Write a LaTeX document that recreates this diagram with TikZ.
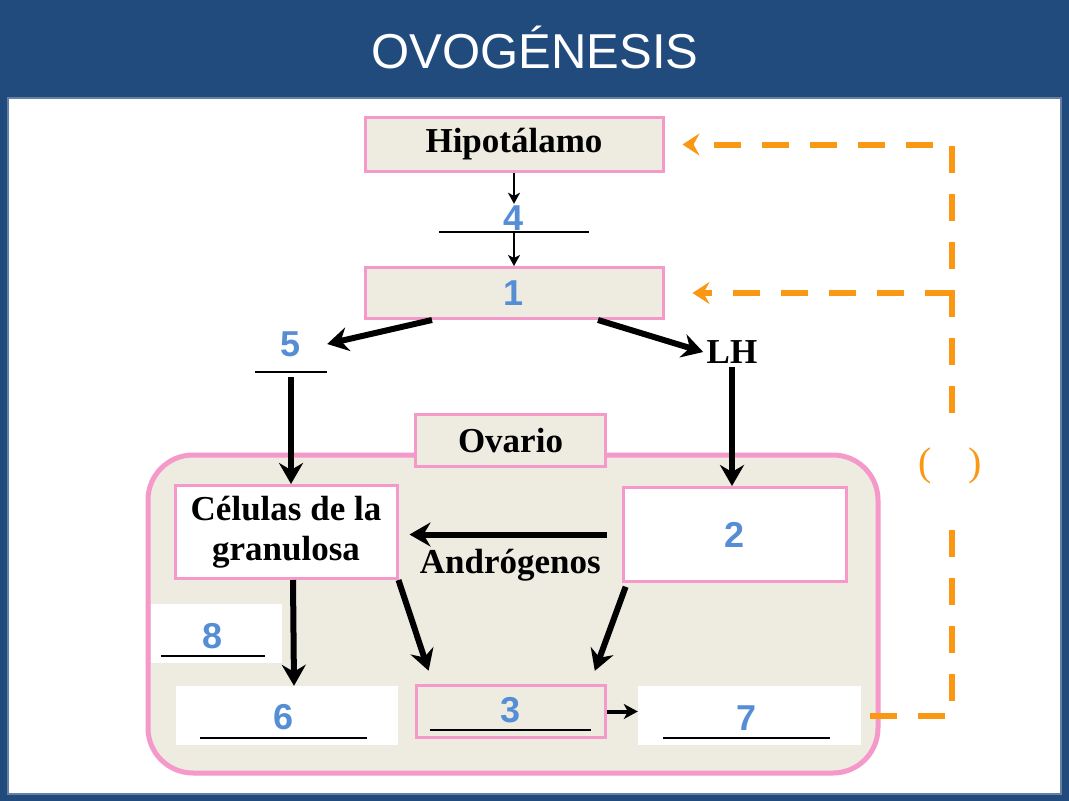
\documentclass[tikz,border=0pt]{standalone}
\usepackage{fontspec}
\setmainfont{Liberation Serif}
\newfontfamily\numfont{Liberation Sans}
\usetikzlibrary{arrows.meta}
\definecolor{frameblue}{RGB}{33,74,125}
\definecolor{boxpink}{RGB}{244,153,201}
\definecolor{boxbeige}{RGB}{238,236,225}
\definecolor{numblue}{RGB}{85,142,213}
\definecolor{fborange}{RGB}{250,152,20}
\begin{document}
\begin{tikzpicture}[
    x=1pt, y=-1pt,
    box/.style={rectangle, draw=boxpink, line width=3pt, fill=boxbeige, inner sep=2pt, font=\bfseries\fontsize{35}{40}\selectfont},
    cell/.style={box, fill=white, align=center},
    slot/.style={rectangle, fill=white, inner sep=0pt},
    num/.style={text=numblue, inner sep=1pt, font=\numfont\bfseries\fontsize{36}{40}\selectfont},
    blank/.style={num, minimum width=#1, append after command={(\tikzlastnode.south west) edge[rule] (\tikzlastnode.south east)}},
    rule/.style={draw=black, line width=2pt},
    arrow/.style={-{Stealth[length=21pt, width=24pt, inset=7pt]}, line width=6pt},
    small arrow/.style={-{Stealth[length=11pt, width=12pt, inset=3pt]}, line width=2.5pt},
    mid arrow/.style={-{Stealth[length=14pt, width=15pt, inset=4pt]}, line width=4pt},
    feedback/.style={draw=fborange, line width=6pt, dash pattern=on 27pt off 21pt, -{Stealth[length=17pt, width=22pt, inset=6pt]}}
]
    % Frame and title
    \fill[frameblue] (0,0) rectangle (1069,801);
    \draw[fill=white, draw=frameblue!70!white, line width=2pt] (8,98) rectangle (1061,794);
    \node[text=white, font=\numfont\fontsize{49}{49}\selectfont] (title) at (535,47) {OVOGÉNESIS};

    % Ovary
    \node[rectangle, rounded corners=45pt, draw=boxpink, line width=5pt, fill=boxbeige, minimum width=730pt, minimum height=318pt] (ovary) at (513,614) {};
    \node[box, minimum width=190pt, minimum height=52pt] (ovlabel) at (510.5,440.5) {Ovario};

    % Hormone axis
    \node[box, minimum width=298pt, minimum height=54pt] (hipo) at (514,144.5) {Hipotálamo};
    \node[blank=149pt, minimum height=28pt] (four) at (514,218) {4};
    \node[box, num, minimum width=298pt, minimum height=51pt] (one) at (514,293) {1};
    \node[blank=72pt, minimum height=56pt] (five) at (291,344) {5};
    \node[font=\bfseries\fontsize{35}{40}\selectfont] (lh) at (732,352) {LH};

    % Cells
    \node[cell, minimum width=222pt, minimum height=93pt] (cel) at (286,532) {Células de la\\granulosa};
    \node[cell, num, minimum width=223pt, minimum height=94pt] (two) at (735,534.5) {2};
    \node[box, minimum width=189pt, minimum height=52pt] (threebox) at (511,711.5) {};
    \node[blank=161pt, minimum height=40pt] (three) at (510.5,710) {3};

    % Answer slots
    \node[slot, minimum width=131pt, minimum height=59pt] (eightbox) at (216.5,633.5) {};
    \node[blank=104pt, minimum height=40pt] (eight) at (213,636) {8};
    \node[slot, minimum width=222pt, minimum height=59pt] (sixbox) at (287,715.5) {};
    \node[blank=167pt, minimum height=42pt] (six) at (283.5,717) {6};
    \node[slot, minimum width=223pt, minimum height=59pt] (sevenbox) at (749.5,715.5) {};
    \node[blank=167pt, minimum height=40pt] (seven) at (746.5,718) {7};

    % Connections
    \draw[small arrow] (hipo) -- (four);
    \draw[small arrow] (four) -- (one);
    \draw[arrow] ([xshift=-82pt]one.south) -- (five.east);
    \draw[arrow] ([xshift=84pt]one.south) -- (lh.west);
    \draw[arrow, shorten <=5pt] (five.south) -- (five.south |- cel.north);
    \draw[arrow] (lh) -- (lh |- two.north);
    \draw[arrow, shorten <=15pt, shorten >=11pt] (two.west) -- (two.west -| cel.east)
        node[midway, below=8pt, font=\bfseries\fontsize{35}{40}\selectfont] {Andrógenos};
    \draw[arrow] ([xshift=7pt]cel.south) -- ([xshift=7pt]sixbox.north);
    \draw[arrow, shorten >=14pt] (cel.south east) -- ([xshift=18pt]threebox.north west);
    \draw[arrow, shorten <=4pt, shorten >=14pt] ([xshift=5pt]two.south west) -- ([xshift=-17pt]threebox.north east);
    \draw[mid arrow] (threebox.east) -- (threebox.east -| sevenbox.west);

    % Feedback loop
    \coordinate (loop) at (952,466);
    \draw[feedback, shorten <=9pt] (sevenbox.east) -| (loop) |- ([xshift=18pt]hipo.east);
    \draw[feedback] (loop |- one.east) -- ([xshift=28pt]one.east);
    \node[fill=white, text=fborange, font=\fontsize{40}{40}\selectfont, minimum height=96pt, inner xsep=4pt] (paren) at ([xshift=-2pt]loop) {(\hspace{36pt})};
\end{tikzpicture}
\end{document}
